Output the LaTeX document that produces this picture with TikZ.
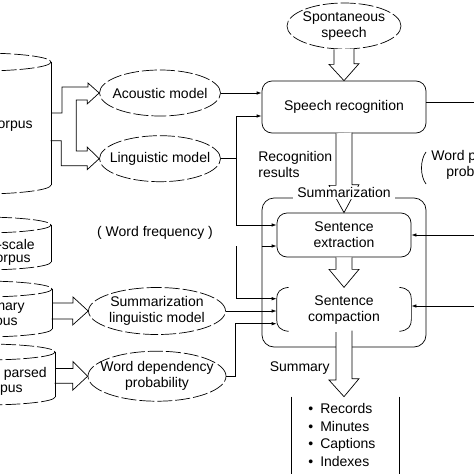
\documentclass[tikz,border=0pt]{standalone}
\usepackage{fontspec}
\setmainfont{Liberation Sans}
\usetikzlibrary{positioning,shapes.geometric,arrows.meta}

\begin{document}
\begin{tikzpicture}[x=1pt, y=-1pt, line width=0.7pt, >={Latex[length=5pt,width=3.5pt]},
                    font=\fontsize{14}{16}\selectfont,
                    modelnode/.style={ellipse, draw, dash pattern=on 15pt off 3pt, inner sep=-10pt, align=center},
                    procnode/.style={rectangle, rounded corners=10pt, draw, inner sep=0pt, align=center},
                    textnode/.style={inner sep=0pt, align=left},
                    dashline/.style={dash pattern=on 15pt off 3pt},
                    hollowarrow/.style={fill=white},]
    \useasboundingbox (0,0) rectangle (474,474);
    \clip (0,0) rectangle (474,474);
    % nodes
    \node[modelnode, minimum width=114pt, minimum height=46pt] (spont)      at (344,26)      {Spontaneous\\speech};
    \node[procnode, minimum width=164pt, minimum height=52pt]  (recog)      at (344,107)     {Speech recognition};
    \node[modelnode, minimum width=121pt, minimum height=46pt] (acoustic)   at (160,93)      {Acoustic model};
    \node[modelnode, minimum width=121pt, minimum height=46pt] (linguistic) [below=19pt of acoustic] {Linguistic model};
    \node[modelnode, minimum width=137pt, minimum height=47pt] (sumling)    at (157,311)     {Summarization\\linguistic model};
    \node[modelnode, minimum width=138pt, minimum height=50pt] (worddep)    [below=16pt of sumling]  {Word dependency\\probability};
    \node[procnode, rounded corners=12pt, minimum width=164pt, minimum height=149pt] (summbox) at (344,272.5) {};
    \node[procnode, minimum width=134pt, minimum height=44pt]  (extract)    at (344,235)     {Sentence\\extraction};
    \node[textnode, align=center, minimum width=134pt, minimum height=44pt] (compact) [below=30pt of extract] {Sentence\\compaction};
    \node[inner sep=0pt, minimum width=107pt, minimum height=90pt] (outbox) at (345.5,442) {};
    \coordinate (corp) at (51,126);
    \coordinate (sumcorp) at (52,311);
    \coordinate (parscorp) at (55,375.5);
    \coordinate (wfreq) at (236,246);
    \coordinate (rin1) at (480,235);
    \coordinate (rin2) at (480,306);
    \coordinate (rout) at (480,102);
    % hollow arrows
    \draw[hollowarrow] (corp) ++(0,-13) -- ++(11,0) -- ++(0,-26) -- ++(26,0) -- ++(0,-4) -- (acoustic.west)
        -- ++(-12,11) -- ++(0,-4) -- ++(-11,0) -- ++(0,51) -- ++(11,0) -- ++(0,-4) -- (linguistic.west)
        -- ++(-12,11) -- ++(0,-4) -- ++(-26,0) -- ++(0,-25) -- ++(-10.5,0);
    \draw[hollowarrow] (sumcorp) ++(0,-8) -- ++(21,0) -- ++(0,-6) -- (sumling.west) -- ++(-15.5,14) -- ++(0,-6) -- ++(-21,0);
    \draw[hollowarrow] (parscorp) ++(0,-7) -- ++(18,0) -- ++(0,-7) -- (worddep.west) -- ++(-15,14) -- ++(0,-7) -- ++(-18,0);
    \draw[hollowarrow] (spont.south) ++(-10,0) -- ++(0,15) -- ++(-5,0) -- (recog.north) -- ++(15,-17) -- ++(-5,0) -- ++(0,-15);
    \draw[hollowarrow] (recog.south) ++(-8,0) -- ++(0,52) -- ++(-7,0) -- (extract.north) -- ++(15,-28) -- ++(-7,0) -- ++(0,-52);
    \draw[hollowarrow] (extract.south) ++(-8,0) -- ++(0,12) -- ++(-7,0) -- (compact.north) -- ++(15,-18) -- ++(-7,0) -- ++(0,-12);
    \draw[hollowarrow] (compact.south) ++(-8,0) -- ++(0,48) -- ++(-7,0) -- (compact.south |- outbox.north) -- ++(15,-18) -- ++(-7,0) -- ++(0,-48);
    \node[fill=white, inner xsep=4pt, inner ysep=1pt, yshift=5pt] (summlabel) at (summbox.north) {Summarization};
    % corpora
    \draw[dashline] (-20,62) ellipse [x radius=71, y radius=9];
    \draw (51,62) -- (51,185);
    \draw[dashline] (51,185) arc[start angle=0, end angle=180, x radius=71, y radius=9];
    \draw[dashline] (-20,225) ellipse [x radius=71, y radius=8];
    \draw (51,225) -- (51,262);
    \draw[dashline] (51,262) arc[start angle=0, end angle=180, x radius=71, y radius=8];
    \draw[dashline] (-19,289) ellipse [x radius=71, y radius=8];
    \draw (52,289) -- (52,329);
    \draw[dashline] (52,329) arc[start angle=0, end angle=180, x radius=71, y radius=8];
    \draw[dashline] (-16,352) ellipse [x radius=71, y radius=8];
    \draw (55,352) -- (55,397);
    \draw[dashline] (55,397) arc[start angle=0, end angle=180, x radius=71, y radius=8];
    \node[textnode, anchor=east] (corptxt)  at (33,126) {orpus};
    \node[textnode, anchor=east] (lsctxta)  at (35,244) {-scale};
    \node[textnode, anchor=east] (lsctxtb)  at (31,260) {orpus};
    \node[textnode, anchor=east] (sumctxta) at (25,308) {mary};
    \node[textnode, anchor=east] (sumctxtb) at (18,322) {ous};
    \node[textnode, anchor=east] (parctxta) at (47,374) {parsed};
    \node[textnode, anchor=east] (parctxtb) at (23,390) {pus};
    % compaction brackets
    \draw (compact.north west) ++(12,0) .. controls +(-9,1) and +(0,-7) .. ++(-12,12) -- ++(0,20) .. controls +(0,7) and +(-9,-1) .. ++(12,12);
    \draw (compact.north east) ++(-12,0) .. controls +(9,1) and +(0,-7) .. ++(12,12) -- ++(0,20) .. controls +(0,7) and +(9,-1) .. ++(-12,12);
    % lines
    \draw[->] (acoustic.east) -- (acoustic.east -| recog.west);
    \draw[->] (linguistic.east) -- ++(15,0) |- ([yshift=-9pt]recog.west);
    \draw[->] (linguistic.east) -- ++(15,0) |- ([yshift=10pt]extract.west);
    \draw[->] ([yshift=-11pt]extract.west -| summbox.west) -- ([yshift=-11pt]extract.west);
    \draw[->] (wfreq) |- ([yshift=11pt]compact.west);
    \draw[->] (sumling.east) -- (sumling.east -| compact.west);
    \draw[->] (worddep.east) -- ++(9,0) |- ([yshift=-14pt]compact.west);
    \draw[->] (rin1) -- (rin1 -| extract.east);
    \draw[->] (rin2) -- (rin2 -| compact.east);
    \draw (rout -| recog.east) -- (rout);
    % output
    \draw (outbox.north west) -- (outbox.south west);
    \draw (outbox.north east) -- (outbox.south east);
    \node[textnode, anchor=north west, font=\fontsize{14}{17.7}\selectfont] (outtxt) at (308,403)
        {\textbullet\hspace{7pt}Records\\ \textbullet\hspace{7pt}Minutes\\ \textbullet\hspace{7pt}Captions\\ \textbullet\hspace{7pt}Indexes};
    % labels
    \node[textnode, anchor=north west] (recres) at (258,151.5) {Recognition\\results};
    \node[textnode, anchor=east] (summtxt) at (330,368) {Summary};
    \node[textnode] (wfreqtxt) at (155,233) {( Word frequency )};
    \node[textnode, anchor=west] (wprob1) at (431,157) {Word p};
    \node[textnode, anchor=west] (wprob2) at (446,173) {prob};
    \draw (426,152) .. controls (420,160) and (420,176) .. (426,184);
\end{tikzpicture}
\end{document}
